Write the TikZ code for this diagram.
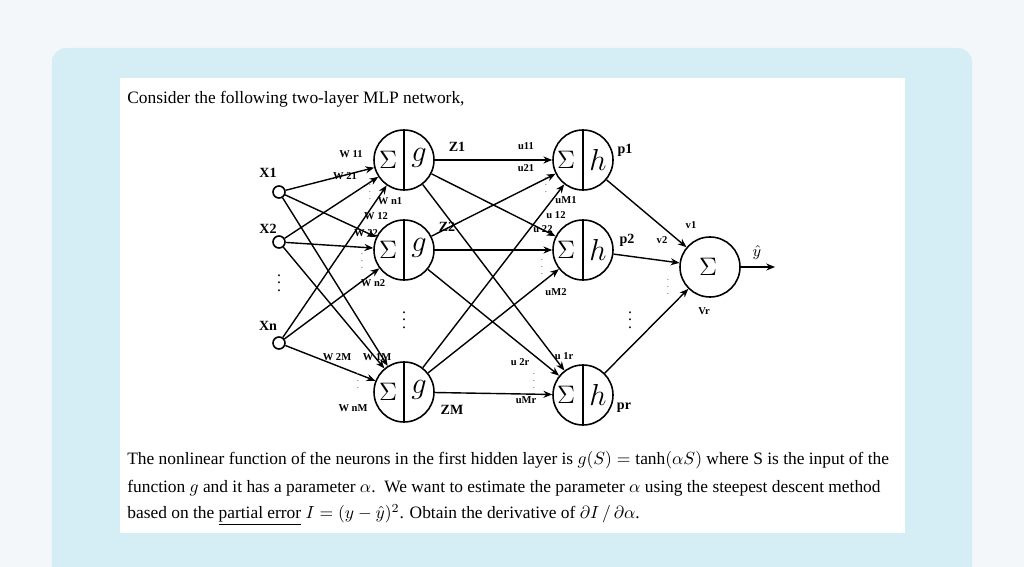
\documentclass[tikz,border=0pt]{standalone}
\usepackage{fontspec}
\setmainfont{Liberation Serif}
\usepackage{amsmath}
\usetikzlibrary{arrows.meta}
\definecolor{panel}{HTML}{D5EEF5}
\definecolor{outer}{HTML}{F3F7FA}
\begin{document}
\begin{tikzpicture}[x=0.02cm,y=-0.02cm,
  neuron/.style={circle,draw,line width=0.9pt,minimum size=60*0.02cm,inner sep=0pt},
  inp/.style={circle,draw,line width=0.9pt,minimum size=12*0.02cm,inner sep=0pt},
  edge/.style={line width=0.8pt,-{Stealth[length=5pt,width=4pt]}},
  lab/.style={font=\bfseries\fontsize{6}{7}\selectfont,inner sep=0pt},
  big/.style={font=\bfseries\fontsize{8}{9}\selectfont,inner sep=0pt},
  dts/.style={font=\fontsize{6}{6}\selectfont,inner sep=0pt,text=gray},
  txt/.style={font=\fontsize{9.9}{11}\selectfont,anchor=west,inner sep=0pt}]
\useasboundingbox (0,0) rectangle (1024,567);
\fill[outer] (0,0) rectangle (1024,567);
\begin{scope}
\clip (0,0) rectangle (1024,567);
\fill[panel,rounded corners=8pt] (52,48) rectangle (972,600);
\end{scope}
\fill[white] (120,78) rectangle (905,533);

\node[txt] (t0) at (127,99) {Consider the following two-layer MLP network,};

% inputs
\node[inp] (x1) at (279,192) {};
\node[inp] (x2) at (279,242) {};
\node[inp] (xn) at (279,343) {};
\node[big] (lx1) at (268,173) {X1};
\node[big] (lx2) at (268,229) {X2};
\node[big] (lxn) at (268,326) {Xn};
\node[font=\fontsize{9}{9}\selectfont] (vx) at (279,278) {$\vdots$};

% hidden g
\foreach \n/\y in {g1/160,g2/250,gM/392}{
  \node[neuron] (\n) at (404,\y) {};
  \draw[line width=0.9pt] (\n.north) -- (\n.south);
  \node[font=\fontsize{14}{14}\selectfont] at (388,\y) {$\Sigma$};
  \node[font=\fontsize{16}{16}\selectfont] at (419,\y-2) {$g$};
}
% hidden h
\foreach \n/\y in {h1/160,h2/250,hr/395}{
  \node[neuron] (\n) at (583,\y) {};
  \draw[line width=0.9pt] (\n.north) -- (\n.south);
  \node[font=\fontsize{14}{14}\selectfont] at (566,\y) {$\Sigma$};
  \node[font=\fontsize{16}{16}\selectfont] at (598,\y) {$h$};
}
\node[neuron] (o) at (710,267) {};
\node[font=\fontsize{15}{15}\selectfont] at (708,267) {$\Sigma$};
\coordinate (out) at (775,267);
\draw[edge] (o) -- (out);
\node[font=\fontsize{9}{9}\selectfont] (yh) at (757,253) {$\hat{y}$};

% input edges
\foreach \a in {x1,x2,xn}{\foreach \b in {g1,g2,gM}{\draw[edge] (\a) -- (\b);}}
% hidden edges
\foreach \a in {g1,g2,gM}{\foreach \b in {h1,h2,hr}{\draw[edge] (\a) -- (\b);}}
\foreach \a in {h1,h2,hr}{\draw[edge] (\a) -- (o);}

% labels
\node[lab] at (351,154) {W 11};
\node[lab] at (345,176) {W 21};
\node[lab] at (390,201) {W n1};
\node[lab] at (376,216) {W 12};
\node[lab] at (366,233) {W 22};
\node[lab] at (373,283) {W n2};
\node[lab] at (337,357) {W 2M};
\node[lab] at (377,357) {W 1M};
\node[lab] at (353,408) {W nM};
\node[big] at (457,147) {Z1};
\node[big] at (447,227) {Z2};
\node[big] at (452,410) {ZM};
\node[lab] at (526,146) {u11};
\node[lab] at (526,168) {u21};
\node[lab] at (566,200) {uM1};
\node[lab] at (556,215) {u 12};
\node[lab] at (543,229) {u 22};
\node[lab] at (556,292) {uM2};
\node[lab] at (564,356) {u 1r};
\node[lab] at (520,362) {u 2r};
\node[lab] at (526,400) {uMr};
\node[big] at (625,150) {p1};
\node[big] at (627,240) {p2};
\node[big] at (624,408) {pr};
\node[lab] at (691,225) {v1};
\node[lab] at (662,240) {v2};
\node[lab] at (704,311) {Vr};

% dots
\node[font=\fontsize{9}{9}\selectfont] at (404,315) {$\vdots$};
\node[font=\fontsize{9}{9}\selectfont] at (630,315) {$\vdots$};
\node[dts] at (370,187) {$\vdots$};
\node[dts] at (362,256) {$\vdots$};
\node[dts] at (358,376) {$\vdots$};
\node[dts] at (546,180) {$\vdots$};
\node[dts] at (542,262) {$\vdots$};
\node[dts] at (534,376) {$\vdots$};
\node[dts] at (668,282) {$\vdots$};

\node[txt] (t1) at (127,460) {The nonlinear function of the neurons in the first hidden layer is $g(S)=\tanh(\alpha S)$ where S is the input of the};
\node[txt] (t2) at (127,488) {function $g$ and it has a parameter $\alpha$.\ \ We want to estimate the parameter $\alpha$ using the steepest descent method};
\node[txt] (t3) at (127,515) {based on the \underline{partial error} $I=(y-\hat{y})^{2}$. Obtain the derivative of $\partial I\,/\,\partial\alpha$.};
\end{tikzpicture}
\end{document}
